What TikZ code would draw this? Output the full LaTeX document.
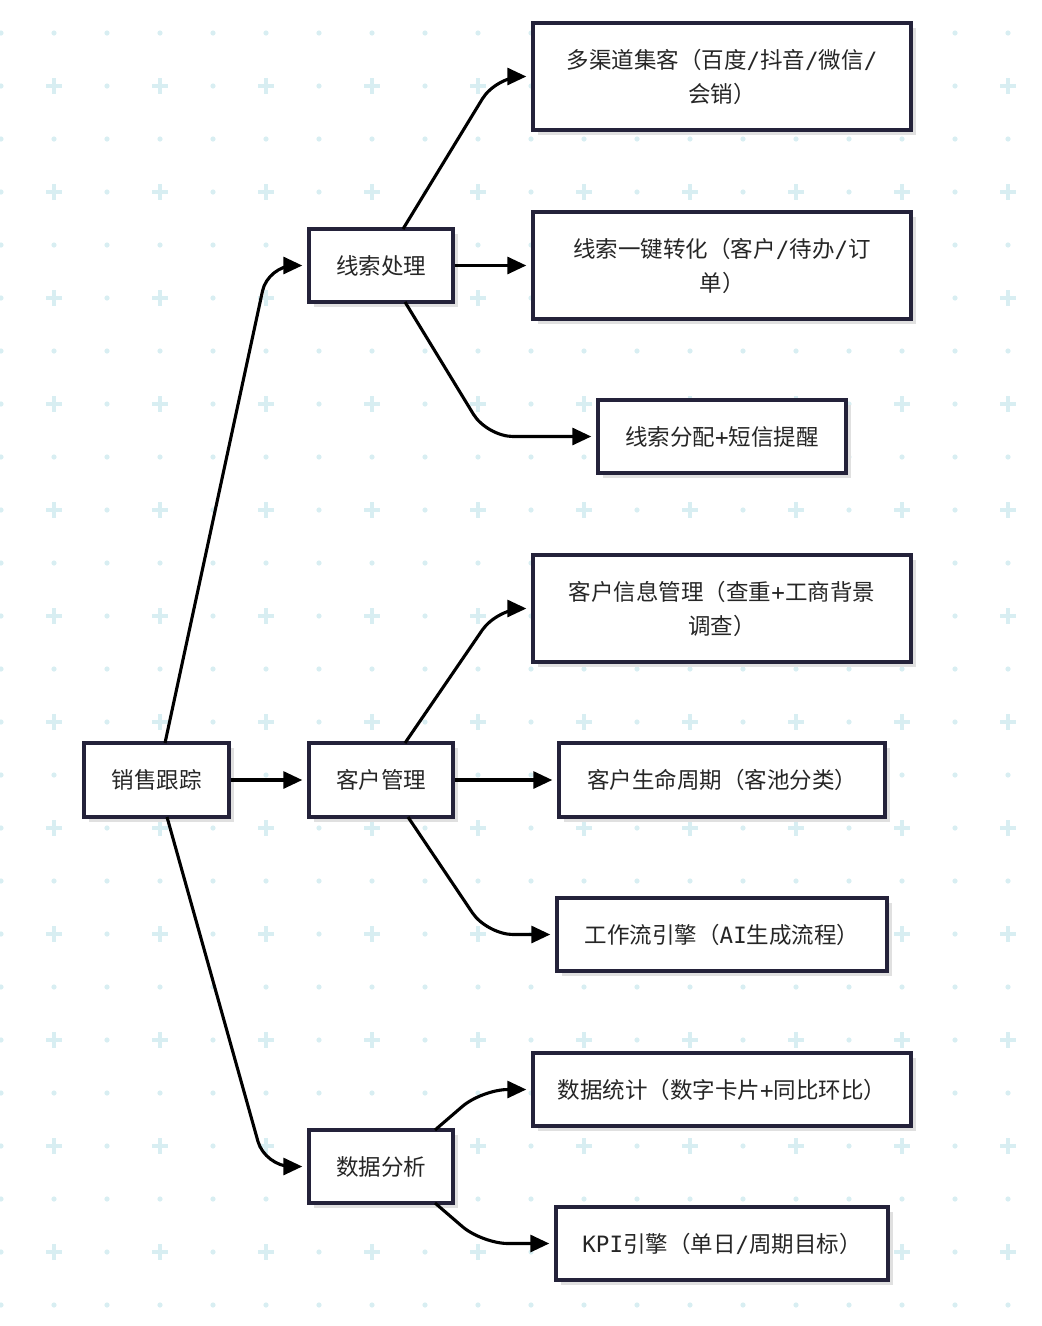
\documentclass[tikz,border=0pt]{standalone}
\usepackage{fontspec}
\setmainfont{Noto Sans CJK SC}
\newfontfamily\lat{DejaVu Sans Mono}
\usetikzlibrary{arrows.meta,shadows}
\definecolor{gridc}{HTML}{D8EEF2}
\definecolor{boxc}{HTML}{24223A}
\definecolor{txtc}{HTML}{262626}
\tikzset{
  box/.style={draw=boxc, line width=3.4pt, fill=white, text=txtc, align=center,
    font=\fontsize{22.5}{34}\selectfont, inner sep=0pt,
    drop shadow={shadow xshift=5pt, shadow yshift=-5pt, fill=black!12, opacity=1}},
  conn/.style={line width=3.1pt, black, rounded corners=26pt,
    -{Triangle[length=19pt,width=17pt]}, shorten >=5pt}
}
\begin{document}
\begin{tikzpicture}[x=1pt,y=-1pt]
\useasboundingbox (0,0) rectangle (1042,1326);
% background grid
\foreach \k in {0,...,19}{
  \foreach \j in {0,...,24}{
    \pgfmathtruncatemacro{\isx}{mod(\k,2)*mod(\j,2)}
    \pgfmathsetmacro{\px}{1+53*\k}
    \pgfmathsetmacro{\py}{33+53*\j}
    \ifnum\isx=1
      \draw[gridc, line width=3.8pt] (\px-8,\py) -- (\px+8,\py) (\px,\py-8) -- (\px,\py+8);
    \else
      \fill[gridc] (\px,\py) circle (2.6pt);
    \fi
  }
}
% nodes
\node[box, minimum width=145pt, minimum height=74pt] (A) at (156.5,780) {销售跟踪};
\node[box, minimum width=144pt, minimum height=73pt] (B) at (381,265.5) {线索处理};
\node[box, minimum width=144pt, minimum height=74pt] (C) at (381,780) {客户管理};
\node[box, minimum width=144pt, minimum height=73pt] (D) at (381,1166.5) {数据分析};
\node[box, minimum width=378pt, minimum height=107pt] (B1) at (722,76.5) {多渠道集客（百度{\lat/}抖音{\lat/}微信{\lat/}\\会销）};
\node[box, minimum width=378pt, minimum height=107pt] (B2) at (722,265.5) {线索一键转化（客户{\lat/}待办{\lat/}订\\单）};
\node[box, minimum width=248pt, minimum height=73pt] (B3) at (722,436.5) {线索分配{\lat+}短信提醒};
\node[box, minimum width=378pt, minimum height=107pt] (C1) at (722,608.5) {客户信息管理（查重{\lat+}工商背景\\调查）};
\node[box, minimum width=326pt, minimum height=74pt] (C2) at (722,780) {客户生命周期（客池分类）};
\node[box, minimum width=330pt, minimum height=73pt] (C3) at (722,934.5) {工作流引擎（{\lat AI}生成流程）};
\node[box, minimum width=378pt, minimum height=73pt] (D1) at (722,1089.5) {数据统计（数字卡片{\lat+}同比环比）};
\node[box, minimum width=332pt, minimum height=73pt] (D2) at (722,1243.5) {{\lat KPI}引擎（单日{\lat/}周期目标）};
% connectors
\coordinate (a1) at (165,743);
\coordinate (a2) at (167,817);
\draw[conn] (a1) -- (268,265.5) -- (B.west);
\draw[conn] (A.east) -- (C.west);
\draw[conn] (a2) -- (265,1166.5) -- (D.west);
\coordinate (b1) at (403,229);
\coordinate (b2) at (405,302);
\draw[conn] (b1) -- (496,76.5) -- (B1.west);
\draw[conn] (B.east) -- (B2.west);
\draw[conn] (b2) -- (487,436.5) -- (B3.west);
\coordinate (c1) at (405,743);
\coordinate (c2) at (408,817);
\draw[conn] (c1) -- (497,608.5) -- (C1.west);
\draw[conn] (C.east) -- (C2.west);
\draw[conn] (c2) -- (487,934.5) -- (C3.west);
\coordinate (d1) at (435,1130);
\coordinate (d2) at (435,1203);
\draw[conn] (d1) -- (482,1089.5) -- (D1.west);
\draw[conn] (d2) -- (482,1243.5) -- (D2.west);
\end{tikzpicture}
\end{document}
